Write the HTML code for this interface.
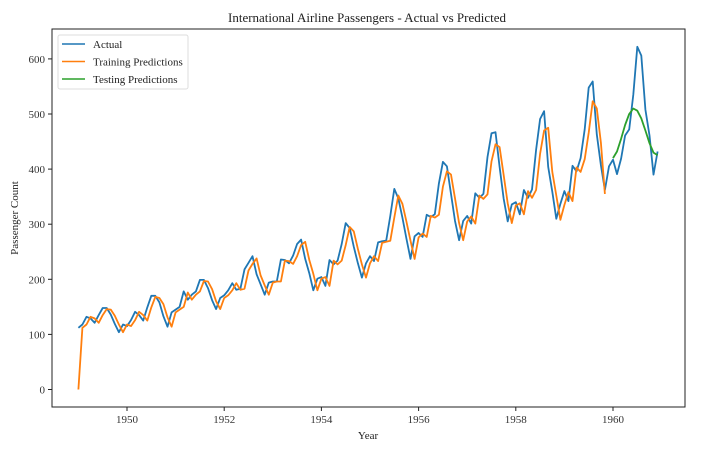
<!DOCTYPE html>
<html><head><meta charset="utf-8"><style>
html,body{margin:0;padding:0;background:#fff;}
svg{display:block;font-family:"Liberation Serif",serif;}
</style></head><body>
<svg id="chart" width="703" height="451"></svg>
<script>
const actualVals=[112,118,132,129,121,135,148,148,136,119,104,118,115,126,141,135,125,149,170,170,158,133,114,140,145,150,178,163,172,178,199,199,184,162,146,166,171,180,193,181,183,218,230,242,209,191,172,194,196,196,236,235,229,243,264,272,237,211,180,201,204,188,235,227,234,264,302,293,259,229,203,229,242,233,267,269,270,315,364,347,312,274,237,278,284,277,317,313,318,374,413,405,355,306,271,306,315,301,356,348,355,422,465,467,404,347,305,336,340,318,362,348,363,435,491,505,404,359,310,337,360,342,406,396,420,472,548,559,463,407,362,405,417,391,419,461,472,535,622,606,508,461,390,432];
const trainVals=[0,112,118,132,129,121,135,146,145,134,118,104,118,115,126,141,135,125,149,168,166,155,131,114,140,145,150,176,163,172,178,197,196,182,160,146,166,171,180,193,181,183,216,228,238,207,189,172,194,196,196,234,233,228,242,262,268,235,210,180,201,204,188,234,227,234,262,295,287,255,227,203,229,242,233,266,268,270,312,352,337,305,270,237,276,283,277,315,312,317,368,396,390,347,302,271,305,314,301,352,346,354,414,445,440,390,338,302,334,338,318,360,348,362,428,470,475,395,352,308,335,358,342,403,395,418,466,523,510,448,355];
const testVals=[420,432,455,480,500,510,506,492,470,447,430,425];
const testStart=132;
const xTicks=[1950,1952,1954,1956,1958,1960];
const yTicks=[0,100,200,300,400,500,600];
const L=52,R=685,T=29,B=407;
const xs=yr=>613+(yr-1960)*48.6;
const ys=v=>389.5-v*0.551;
const idxYear=i=>1949+i/12;
const svg=document.getElementById('chart');
const NS='http://www.w3.org/2000/svg';
function mk(t,a,p){const e=document.createElementNS(NS,t);for(const k in a)e.setAttribute(k,a[k]);(p||svg).appendChild(e);return e;}
let e=mk('text',{x:367,y:22,'text-anchor':'middle','font-size':13,fill:'#222'});e.textContent='International Airline Passengers - Actual vs Predicted';


e=mk('rect',{x:L,y:T,width:R-L,height:B-T,fill:'none',stroke:'#222','stroke-width':1});


xTicks.forEach(t=>{const x=xs(t);mk('line',{x1:x,x2:x,y1:B,y2:B+4,stroke:'#222'});
 const tx=mk('text',{x:x,y:B+16,'text-anchor':'middle','font-size':11,fill:'#333'});tx.textContent=t;
 
 });
yTicks.forEach(t=>{const y=ys(t);mk('line',{x1:L-4,x2:L,y1:y,y2:y,stroke:'#222'});
 const tx=mk('text',{x:L-7,y:y+4,'text-anchor':'end','font-size':11,fill:'#333'});tx.textContent=t;
 
 });
e=mk('text',{x:368,y:439,'text-anchor':'middle','font-size':11,fill:'#222'});e.textContent='Year';


e=mk('text',{x:18,y:218,'text-anchor':'middle','font-size':11,fill:'#222',transform:'rotate(-90 18 218)'});e.textContent='Passenger Count';


function line(vals,off,color,name){const d=vals.map((v,i)=>(i?'L':'M')+xs(idxYear(i+off)).toFixed(1)+','+ys(v).toFixed(1)).join('');
 const p=mk('path',{d:d,fill:'none',stroke:color,'stroke-width':1.8,'stroke-linejoin':'round'});
 
 }
line(actualVals,0,'#1f77b4','actual-line');
line(trainVals,0,'#ff7f0e','training-predictions-line');
line(testVals,testStart,'#2ca02c','testing-predictions-line');
const lg=mk('g',{});


mk('rect',{x:58,y:35,width:130,height:54,rx:2,fill:'#fff',stroke:'#ddd'},lg);
[['Actual','#1f77b4'],['Training Predictions','#ff7f0e'],['Testing Predictions','#2ca02c']].forEach((s,i)=>{
 const y=44+i*17.5;mk('line',{x1:62,x2:85,y1:y,y2:y,stroke:s[1],'stroke-width':1.6},lg);
 const t=mk('text',{x:93,y:y+4,'font-size':11,fill:'#222'},lg);t.textContent=s[0];
 
 });
</script>
</body></html>
